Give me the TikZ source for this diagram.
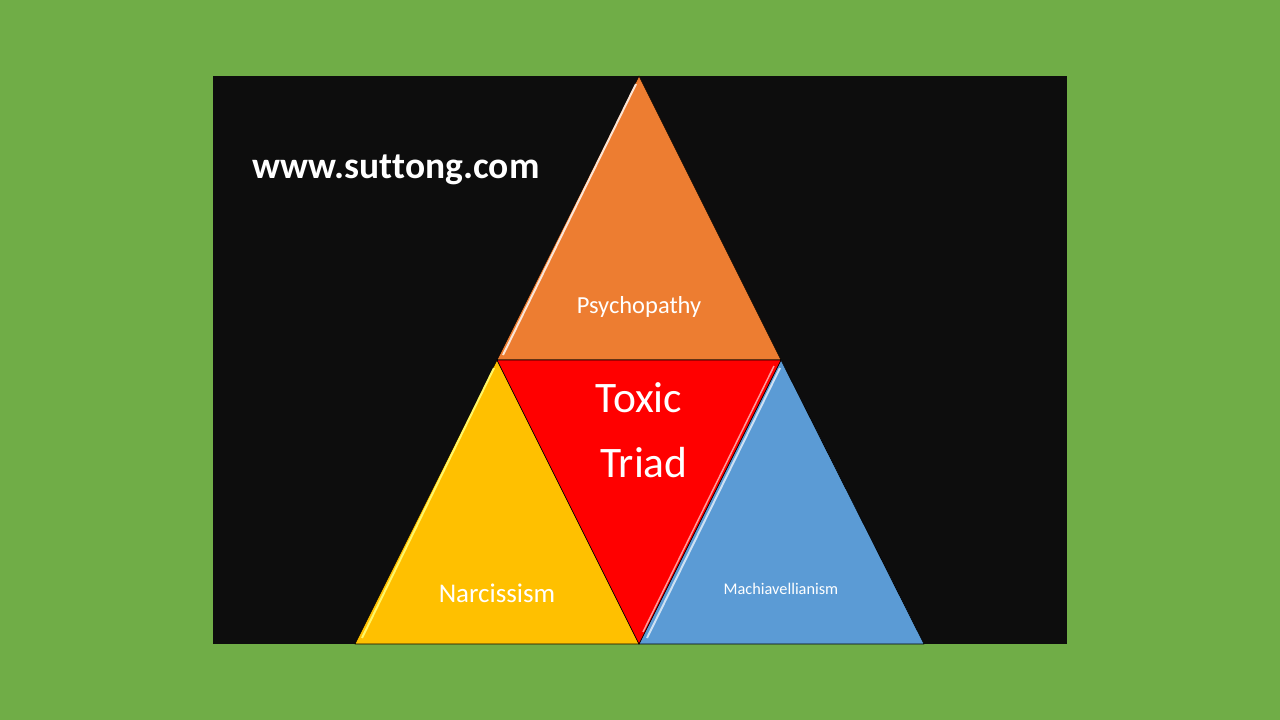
\documentclass[tikz,border=0pt]{standalone}
\usepackage{fontspec}
\setmainfont{Carlito}[Ligatures=CommonOff]
\definecolor{bg}{HTML}{70AD47}
\definecolor{blk}{HTML}{0D0D0D}
\definecolor{orn}{HTML}{ED7D31}
\definecolor{yel}{HTML}{FFC000}
\definecolor{blu}{HTML}{5B9BD5}
\begin{document}
\begin{tikzpicture}[x=1pt,y=-1pt,
  tri/.style={draw=black,line width=0.6pt,line join=round},
  lbl/.style={text=white,inner sep=0pt}]
\useasboundingbox (0,0) rectangle (1280,720);
\fill[bg] (0,0) rectangle (1280,720);
\fill[blk] (213,76) rectangle (1067,644);
\coordinate (A) at (639,76);
\coordinate (L) at (355,644);
\coordinate (R) at (924,644);
\coordinate (ML) at (497,360);
\coordinate (MR) at (781,360);
\coordinate (MB) at (639,644);
\fill[orn,tri] (A) -- (ML) -- (MR) -- cycle;
\fill[yel,tri] (ML) -- (L) -- (MB) -- cycle;
\fill[blu,tri] (MR) -- (MB) -- (R) -- cycle;
\fill[red,tri] (ML) -- (MR) -- (MB) -- cycle;
\draw[white!80!orn,line width=2pt] (636,84) -- (503,355);
\draw[yellow!60!white,line width=2pt] (494,368) -- (362,638);
\draw[white!70!blu,line width=2pt] (780,368) -- (647,638);
\draw[white!60!red,line width=1.5pt] (774,366) -- (643,632);
\node[lbl,font=\bfseries\fontsize{37.5}{40}\selectfont] (w) at (396,170) {www.sut\kern0pt tong.com};
\node[lbl,font=\fontsize{24.5}{28}\selectfont] (p) at (639,307) {Psychopathy};
\node[lbl,font=\fontsize{43.5}{48}\selectfont] (t1) at (639,398) {Toxic};
\node[lbl,font=\fontsize{43.5}{48}\selectfont] (t2) at (644,463) {Triad};
\node[lbl,font=\fontsize{27}{30}\selectfont] (n) at (497,593) {Narcissism};
\node[lbl,font=\fontsize{16.3}{18}\selectfont] (m) at (781,589) {Machiavellianism};
\end{tikzpicture}
\end{document}
